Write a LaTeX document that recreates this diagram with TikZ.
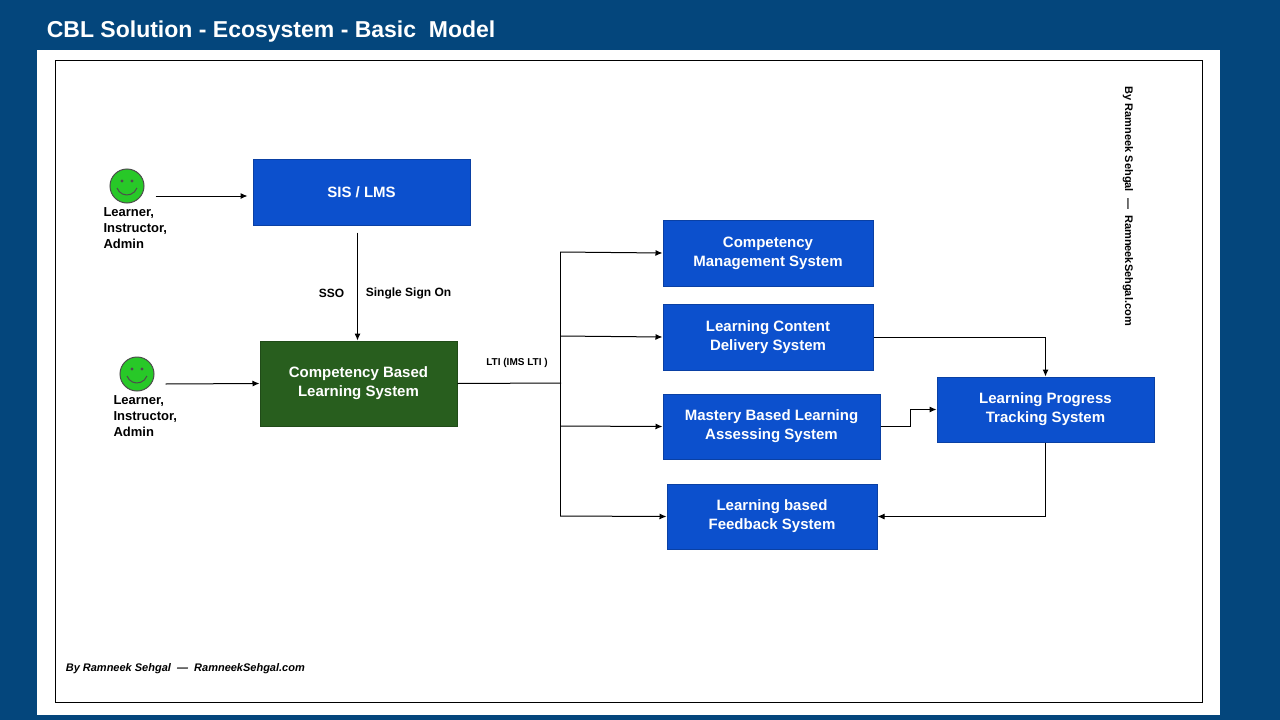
\documentclass[tikz,border=0pt]{standalone}
\usepackage{fontspec}
\setmainfont{Liberation Sans}
\usetikzlibrary{positioning,calc,arrows.meta}
\definecolor{bgblue}{RGB}{4,70,124}
\definecolor{boxblue}{RGB}{12,80,205}
\definecolor{boxgreen}{RGB}{40,94,30}
\definecolor{smile}{RGB}{40,200,40}
\begin{document}
\begin{tikzpicture}[x=1pt,y=-1pt,line width=1pt,
        SysBox/.style={draw=boxblue!80!black,fill=boxblue,text=white,font=\bfseries\fontsize{15}{19}\selectfont,align=center,inner sep=0pt},
        UserTxt/.style={font=\bfseries\fontsize{13}{16}\selectfont,align=left,anchor=north west,inner sep=0pt},
        Face/.style={circle,draw=black!70,fill=smile,minimum size=34pt,inner sep=0pt},
        Lnk/.style={-{Latex[length=7pt,width=6pt]}}
    ]
    \useasboundingbox (0,0) rectangle (1280,720);
    \fill[bgblue] (0,0) rectangle (1280,720);
    \fill[white] (37,50) rectangle (1220,715);
    \draw (55,60) rectangle (1202,702);
    \node[anchor=west,text=white,font=\bfseries\fontsize{23}{27}\selectfont] (title) at (43,32) {CBL Solution - Ecosystem - Basic\ \ Model};

    %users
    \node[Face] (U1) at (127,186) {};
    \node[Face] (U2) at (137,374) {};
    \foreach \f in {U1,U2}{
        \fill[black!70] ($(\f)+(-5,-5)$) circle (1.6pt) ($(\f)+(5,-5)$) circle (1.6pt);
        \draw[black!70] ($(\f)+(-10,2)$) arc[start angle=-160,end angle=-20,radius=10.6pt];
    }
    \node[UserTxt] (U1t) at (103,207) {Learner,\\Instructor,\\Admin};
    \node[UserTxt] (U2t) at (113,395) {Learner,\\Instructor,\\Admin};

    %systems
    \node[SysBox,minimum width=217pt,minimum height=66pt] (SIS) at (361.5,192) {SIS / LMS};
    \node[SysBox,fill=boxgreen,draw=boxgreen!80!black,minimum width=197pt,minimum height=85pt] (CBLS) at (358.5,383.5) {Competency Based\\Learning System};
    \node[SysBox,minimum width=210pt,minimum height=66pt] (CMS) at (768,253) {Competency\\Management System};
    \node[SysBox,minimum width=210pt,minimum height=66pt] (LCDS) at (768,337) {Learning Content\\Delivery System};
    \node[SysBox,minimum width=217pt,minimum height=65pt] (MBLAS) at (771.5,426.5) {Mastery Based Learning\\Assessing System};
    \node[SysBox,minimum width=210pt,minimum height=65pt] (LBFS) at (772,516.5) {Learning based\\Feedback System};
    \node[SysBox,minimum width=217pt,minimum height=65pt] (LPTS) at (1045.5,409.5) {Learning Progress\\Tracking System};

    %connections
    \draw[Lnk] ($(U1.east)+(11,10)$) -- ($(SIS.west)+(-5,4)$);
    \draw[Lnk] ($(U2.east)+(11,10)$) -- (CBLS.west);
    \draw[Lnk] ($(SIS.south)+(-4,7)$)coordinate (S1) -- (S1|-CBLS.north);
    \node[font=\bfseries\fontsize{12}{14}\selectfont,anchor=east] (sso) at (348,293) {SSO};
    \node[font=\bfseries\fontsize{12}{14}\selectfont,anchor=west] (ssoT) at (362,293) {Single Sign On};
    \draw (CBLS.east) -- (561,383)coordinate (bus);
    \node[font=\bfseries\fontsize{10}{12}\selectfont,anchor=south] (lti) at (517,371) {LTI (IMS LTI )};
    \draw (560,252)coordinate (busT) -- (560,516)coordinate (busB);
    \draw[Lnk] (busT) -- (CMS.west);
    \draw[Lnk] (560,336) -- (LCDS.west);
    \draw[Lnk] (560,426) -- (MBLAS.west);
    \draw[Lnk] (busB) -- (LBFS.west);
    \draw[Lnk] (LCDS.east) -| (LPTS.north);
    \draw[Lnk] (MBLAS.east) -- ++(30,0) |- (LPTS.west);
    \draw[Lnk] (LPTS.south) |- (LBFS.east);

    %credits
    \node[font=\bfseries\itshape\fontsize{11}{13}\selectfont,anchor=west] (cr1) at (62,669) {By Ramneek Sehgal\ \ ---\ \ RamneekSehgal.com};
    \node[font=\bfseries\fontsize{11}{13}\selectfont,rotate=-90,anchor=west] (cr2) at (1128,83) {By Ramneek Sehgal\ \ ---\ \ RamneekSehgal.com};
\end{tikzpicture}
\end{document}
